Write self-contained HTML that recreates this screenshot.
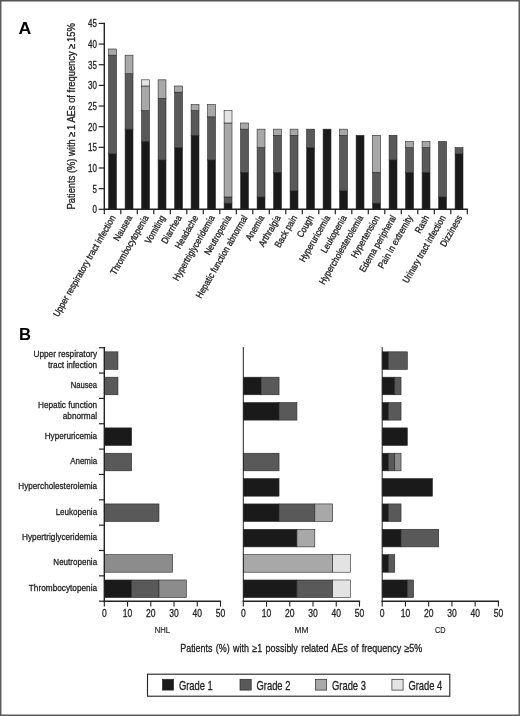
<!DOCTYPE html>
<html lang="en">
<head>
<meta charset="utf-8">
<title>Figure: adverse events by grade</title>
<style>
html,body{margin:0;padding:0;background:#fff;}
body{width:520px;height:716px;overflow:hidden;}
svg{display:block;font-family:"Liberation Sans", sans-serif;}
</style>
</head>
<body>
<svg width="520" height="716" viewBox="0 0 520 716">
<rect x="0" y="0" width="520" height="716" fill="#fff"/>
<g id="panelA">
<rect x="108.60" y="153.81" width="7.9" height="55.49" fill="#1a1a1a" stroke="#2a2a2a" stroke-width="0.6"/>
<rect x="108.60" y="55.16" width="7.9" height="98.65" fill="#595959" stroke="#2a2a2a" stroke-width="0.6"/>
<rect x="108.60" y="48.99" width="7.9" height="6.17" fill="#a8a8a8" stroke="#2a2a2a" stroke-width="0.6"/>
<text transform="translate(115.95,217.60) rotate(-60) scale(0.872,1)" font-size="9.5" text-anchor="end" fill="#222" stroke="#222" stroke-width="0.3">Upper respiratory tract infection</text>
<rect x="125.10" y="129.15" width="7.9" height="80.15" fill="#1a1a1a" stroke="#2a2a2a" stroke-width="0.6"/>
<rect x="125.10" y="73.66" width="7.9" height="55.49" fill="#595959" stroke="#2a2a2a" stroke-width="0.6"/>
<rect x="125.10" y="55.16" width="7.9" height="18.50" fill="#a8a8a8" stroke="#2a2a2a" stroke-width="0.6"/>
<text transform="translate(132.45,217.60) rotate(-60) scale(0.852,1)" font-size="9.5" text-anchor="end" fill="#222" stroke="#222" stroke-width="0.3">Nausea</text>
<rect x="141.60" y="141.48" width="7.9" height="67.82" fill="#1a1a1a" stroke="#2a2a2a" stroke-width="0.6"/>
<rect x="141.60" y="110.65" width="7.9" height="30.83" fill="#595959" stroke="#2a2a2a" stroke-width="0.6"/>
<rect x="141.60" y="85.99" width="7.9" height="24.66" fill="#a8a8a8" stroke="#2a2a2a" stroke-width="0.6"/>
<rect x="141.60" y="79.82" width="7.9" height="6.17" fill="#e3e3e3" stroke="#2a2a2a" stroke-width="0.6"/>
<text transform="translate(148.95,217.60) rotate(-60) scale(0.852,1)" font-size="9.5" text-anchor="end" fill="#222" stroke="#222" stroke-width="0.3">Thrombocytopenia</text>
<rect x="158.10" y="159.97" width="7.9" height="49.33" fill="#1a1a1a" stroke="#2a2a2a" stroke-width="0.6"/>
<rect x="158.10" y="98.32" width="7.9" height="61.66" fill="#595959" stroke="#2a2a2a" stroke-width="0.6"/>
<rect x="158.10" y="79.82" width="7.9" height="18.50" fill="#a8a8a8" stroke="#2a2a2a" stroke-width="0.6"/>
<text transform="translate(165.45,217.60) rotate(-60) scale(0.852,1)" font-size="9.5" text-anchor="end" fill="#222" stroke="#222" stroke-width="0.3">Vomiting</text>
<rect x="174.60" y="147.64" width="7.9" height="61.66" fill="#1a1a1a" stroke="#2a2a2a" stroke-width="0.6"/>
<rect x="174.60" y="92.15" width="7.9" height="55.49" fill="#595959" stroke="#2a2a2a" stroke-width="0.6"/>
<rect x="174.60" y="85.99" width="7.9" height="6.17" fill="#a8a8a8" stroke="#2a2a2a" stroke-width="0.6"/>
<text transform="translate(181.95,217.60) rotate(-60) scale(0.852,1)" font-size="9.5" text-anchor="end" fill="#222" stroke="#222" stroke-width="0.3">Diarrhea</text>
<rect x="191.10" y="135.31" width="7.9" height="73.99" fill="#1a1a1a" stroke="#2a2a2a" stroke-width="0.6"/>
<rect x="191.10" y="110.65" width="7.9" height="24.66" fill="#595959" stroke="#2a2a2a" stroke-width="0.6"/>
<rect x="191.10" y="104.48" width="7.9" height="6.17" fill="#a8a8a8" stroke="#2a2a2a" stroke-width="0.6"/>
<text transform="translate(198.45,217.60) rotate(-60) scale(0.852,1)" font-size="9.5" text-anchor="end" fill="#222" stroke="#222" stroke-width="0.3">Headache</text>
<rect x="207.60" y="159.97" width="7.9" height="49.33" fill="#1a1a1a" stroke="#2a2a2a" stroke-width="0.6"/>
<rect x="207.60" y="116.81" width="7.9" height="43.16" fill="#595959" stroke="#2a2a2a" stroke-width="0.6"/>
<rect x="207.60" y="104.48" width="7.9" height="12.33" fill="#a8a8a8" stroke="#2a2a2a" stroke-width="0.6"/>
<text transform="translate(214.95,217.60) rotate(-60) scale(0.852,1)" font-size="9.5" text-anchor="end" fill="#222" stroke="#222" stroke-width="0.3">Hypertriglyceridemia</text>
<rect x="224.10" y="203.13" width="7.9" height="6.17" fill="#1a1a1a" stroke="#2a2a2a" stroke-width="0.6"/>
<rect x="224.10" y="196.97" width="7.9" height="6.17" fill="#595959" stroke="#2a2a2a" stroke-width="0.6"/>
<rect x="224.10" y="122.98" width="7.9" height="73.99" fill="#a8a8a8" stroke="#2a2a2a" stroke-width="0.6"/>
<rect x="224.10" y="110.65" width="7.9" height="12.33" fill="#e3e3e3" stroke="#2a2a2a" stroke-width="0.6"/>
<text transform="translate(231.45,217.60) rotate(-60) scale(0.852,1)" font-size="9.5" text-anchor="end" fill="#222" stroke="#222" stroke-width="0.3">Neutropenia</text>
<rect x="240.60" y="172.31" width="7.9" height="36.99" fill="#1a1a1a" stroke="#2a2a2a" stroke-width="0.6"/>
<rect x="240.60" y="129.15" width="7.9" height="43.16" fill="#595959" stroke="#2a2a2a" stroke-width="0.6"/>
<rect x="240.60" y="122.98" width="7.9" height="6.17" fill="#a8a8a8" stroke="#2a2a2a" stroke-width="0.6"/>
<text transform="translate(247.95,217.60) rotate(-60) scale(0.852,1)" font-size="9.5" text-anchor="end" fill="#222" stroke="#222" stroke-width="0.3">Hepatic function abnormal</text>
<rect x="257.10" y="196.97" width="7.9" height="12.33" fill="#1a1a1a" stroke="#2a2a2a" stroke-width="0.6"/>
<rect x="257.10" y="147.64" width="7.9" height="49.33" fill="#595959" stroke="#2a2a2a" stroke-width="0.6"/>
<rect x="257.10" y="129.15" width="7.9" height="18.50" fill="#a8a8a8" stroke="#2a2a2a" stroke-width="0.6"/>
<text transform="translate(264.45,217.60) rotate(-60) scale(0.852,1)" font-size="9.5" text-anchor="end" fill="#222" stroke="#222" stroke-width="0.3">Anemia</text>
<rect x="273.60" y="172.31" width="7.9" height="36.99" fill="#1a1a1a" stroke="#2a2a2a" stroke-width="0.6"/>
<rect x="273.60" y="135.31" width="7.9" height="36.99" fill="#595959" stroke="#2a2a2a" stroke-width="0.6"/>
<rect x="273.60" y="129.15" width="7.9" height="6.17" fill="#a8a8a8" stroke="#2a2a2a" stroke-width="0.6"/>
<text transform="translate(280.95,217.60) rotate(-60) scale(0.852,1)" font-size="9.5" text-anchor="end" fill="#222" stroke="#222" stroke-width="0.3">Arthralgia</text>
<rect x="290.10" y="190.80" width="7.9" height="18.50" fill="#1a1a1a" stroke="#2a2a2a" stroke-width="0.6"/>
<rect x="290.10" y="135.31" width="7.9" height="55.49" fill="#595959" stroke="#2a2a2a" stroke-width="0.6"/>
<rect x="290.10" y="129.15" width="7.9" height="6.17" fill="#a8a8a8" stroke="#2a2a2a" stroke-width="0.6"/>
<text transform="translate(297.45,217.60) rotate(-60) scale(0.852,1)" font-size="9.5" text-anchor="end" fill="#222" stroke="#222" stroke-width="0.3">Back pain</text>
<rect x="306.60" y="147.64" width="7.9" height="61.66" fill="#1a1a1a" stroke="#2a2a2a" stroke-width="0.6"/>
<rect x="306.60" y="129.15" width="7.9" height="18.50" fill="#595959" stroke="#2a2a2a" stroke-width="0.6"/>
<text transform="translate(313.95,217.60) rotate(-60) scale(0.852,1)" font-size="9.5" text-anchor="end" fill="#222" stroke="#222" stroke-width="0.3">Cough</text>
<rect x="323.10" y="129.15" width="7.9" height="80.15" fill="#1a1a1a" stroke="#2a2a2a" stroke-width="0.6"/>
<text transform="translate(330.45,217.60) rotate(-60) scale(0.852,1)" font-size="9.5" text-anchor="end" fill="#222" stroke="#222" stroke-width="0.3">Hyperuricemia</text>
<rect x="339.60" y="190.80" width="7.9" height="18.50" fill="#1a1a1a" stroke="#2a2a2a" stroke-width="0.6"/>
<rect x="339.60" y="135.31" width="7.9" height="55.49" fill="#595959" stroke="#2a2a2a" stroke-width="0.6"/>
<rect x="339.60" y="129.15" width="7.9" height="6.17" fill="#a8a8a8" stroke="#2a2a2a" stroke-width="0.6"/>
<text transform="translate(346.95,217.60) rotate(-60) scale(0.852,1)" font-size="9.5" text-anchor="end" fill="#222" stroke="#222" stroke-width="0.3">Leukopenia</text>
<rect x="356.10" y="135.31" width="7.9" height="73.99" fill="#1a1a1a" stroke="#2a2a2a" stroke-width="0.6"/>
<text transform="translate(363.45,217.60) rotate(-60) scale(0.852,1)" font-size="9.5" text-anchor="end" fill="#222" stroke="#222" stroke-width="0.3">Hypercholesterolemia</text>
<rect x="372.60" y="203.13" width="7.9" height="6.17" fill="#1a1a1a" stroke="#2a2a2a" stroke-width="0.6"/>
<rect x="372.60" y="172.31" width="7.9" height="30.83" fill="#595959" stroke="#2a2a2a" stroke-width="0.6"/>
<rect x="372.60" y="135.31" width="7.9" height="36.99" fill="#a8a8a8" stroke="#2a2a2a" stroke-width="0.6"/>
<text transform="translate(379.95,217.60) rotate(-60) scale(0.852,1)" font-size="9.5" text-anchor="end" fill="#222" stroke="#222" stroke-width="0.3">Hypertension</text>
<rect x="389.10" y="159.97" width="7.9" height="49.33" fill="#1a1a1a" stroke="#2a2a2a" stroke-width="0.6"/>
<rect x="389.10" y="135.31" width="7.9" height="24.66" fill="#595959" stroke="#2a2a2a" stroke-width="0.6"/>
<text transform="translate(396.45,217.60) rotate(-60) scale(0.852,1)" font-size="9.5" text-anchor="end" fill="#222" stroke="#222" stroke-width="0.3">Edema peripheral</text>
<rect x="405.60" y="172.31" width="7.9" height="36.99" fill="#1a1a1a" stroke="#2a2a2a" stroke-width="0.6"/>
<rect x="405.60" y="147.64" width="7.9" height="24.66" fill="#595959" stroke="#2a2a2a" stroke-width="0.6"/>
<rect x="405.60" y="141.48" width="7.9" height="6.17" fill="#a8a8a8" stroke="#2a2a2a" stroke-width="0.6"/>
<text transform="translate(412.95,217.60) rotate(-60) scale(0.852,1)" font-size="9.5" text-anchor="end" fill="#222" stroke="#222" stroke-width="0.3">Pain in extremity</text>
<rect x="422.10" y="172.31" width="7.9" height="36.99" fill="#1a1a1a" stroke="#2a2a2a" stroke-width="0.6"/>
<rect x="422.10" y="147.64" width="7.9" height="24.66" fill="#595959" stroke="#2a2a2a" stroke-width="0.6"/>
<rect x="422.10" y="141.48" width="7.9" height="6.17" fill="#a8a8a8" stroke="#2a2a2a" stroke-width="0.6"/>
<text transform="translate(429.45,217.60) rotate(-60) scale(0.852,1)" font-size="9.5" text-anchor="end" fill="#222" stroke="#222" stroke-width="0.3">Rash</text>
<rect x="438.60" y="196.97" width="7.9" height="12.33" fill="#1a1a1a" stroke="#2a2a2a" stroke-width="0.6"/>
<rect x="438.60" y="141.48" width="7.9" height="55.49" fill="#595959" stroke="#2a2a2a" stroke-width="0.6"/>
<text transform="translate(445.95,217.60) rotate(-60) scale(0.852,1)" font-size="9.5" text-anchor="end" fill="#222" stroke="#222" stroke-width="0.3">Urinary tract infection</text>
<rect x="455.10" y="153.81" width="7.9" height="55.49" fill="#1a1a1a" stroke="#2a2a2a" stroke-width="0.6"/>
<rect x="455.10" y="147.64" width="7.9" height="6.17" fill="#595959" stroke="#2a2a2a" stroke-width="0.6"/>
<text transform="translate(462.45,217.60) rotate(-60) scale(0.852,1)" font-size="9.5" text-anchor="end" fill="#222" stroke="#222" stroke-width="0.3">Dizziness</text>
<path d="M104.3,22.80 V209.3 H467.90" fill="none" stroke="#222" stroke-width="1.4"/>
<path d="M98.7,209.30 H104.3" stroke="#222" stroke-width="1.2"/>
<text transform="translate(97.00,213.30) scale(0.74,1)" font-size="10.8" text-anchor="end" fill="#222" stroke="#222" stroke-width="0.3">0</text>
<path d="M98.7,188.65 H104.3" stroke="#222" stroke-width="1.2"/>
<text transform="translate(97.00,192.65) scale(0.74,1)" font-size="10.8" text-anchor="end" fill="#222" stroke="#222" stroke-width="0.3">5</text>
<path d="M98.7,167.99 H104.3" stroke="#222" stroke-width="1.2"/>
<text transform="translate(97.00,171.99) scale(0.74,1)" font-size="10.8" text-anchor="end" fill="#222" stroke="#222" stroke-width="0.3">10</text>
<path d="M98.7,147.34 H104.3" stroke="#222" stroke-width="1.2"/>
<text transform="translate(97.00,151.34) scale(0.74,1)" font-size="10.8" text-anchor="end" fill="#222" stroke="#222" stroke-width="0.3">15</text>
<path d="M98.7,126.68 H104.3" stroke="#222" stroke-width="1.2"/>
<text transform="translate(97.00,130.68) scale(0.74,1)" font-size="10.8" text-anchor="end" fill="#222" stroke="#222" stroke-width="0.3">20</text>
<path d="M98.7,106.03 H104.3" stroke="#222" stroke-width="1.2"/>
<text transform="translate(97.00,110.03) scale(0.74,1)" font-size="10.8" text-anchor="end" fill="#222" stroke="#222" stroke-width="0.3">25</text>
<path d="M98.7,85.37 H104.3" stroke="#222" stroke-width="1.2"/>
<text transform="translate(97.00,89.37) scale(0.74,1)" font-size="10.8" text-anchor="end" fill="#222" stroke="#222" stroke-width="0.3">30</text>
<path d="M98.7,64.72 H104.3" stroke="#222" stroke-width="1.2"/>
<text transform="translate(97.00,68.72) scale(0.74,1)" font-size="10.8" text-anchor="end" fill="#222" stroke="#222" stroke-width="0.3">35</text>
<path d="M98.7,44.06 H104.3" stroke="#222" stroke-width="1.2"/>
<text transform="translate(97.00,48.06) scale(0.74,1)" font-size="10.8" text-anchor="end" fill="#222" stroke="#222" stroke-width="0.3">40</text>
<path d="M98.7,23.41 H104.3" stroke="#222" stroke-width="1.2"/>
<text transform="translate(97.00,27.41) scale(0.74,1)" font-size="10.8" text-anchor="end" fill="#222" stroke="#222" stroke-width="0.3">45</text>
<path d="M104.30,209.3 V214.3" stroke="#222" stroke-width="1.2"/>
<path d="M120.80,209.3 V214.3" stroke="#222" stroke-width="1.2"/>
<path d="M137.30,209.3 V214.3" stroke="#222" stroke-width="1.2"/>
<path d="M153.80,209.3 V214.3" stroke="#222" stroke-width="1.2"/>
<path d="M170.30,209.3 V214.3" stroke="#222" stroke-width="1.2"/>
<path d="M186.80,209.3 V214.3" stroke="#222" stroke-width="1.2"/>
<path d="M203.30,209.3 V214.3" stroke="#222" stroke-width="1.2"/>
<path d="M219.80,209.3 V214.3" stroke="#222" stroke-width="1.2"/>
<path d="M236.30,209.3 V214.3" stroke="#222" stroke-width="1.2"/>
<path d="M252.80,209.3 V214.3" stroke="#222" stroke-width="1.2"/>
<path d="M269.30,209.3 V214.3" stroke="#222" stroke-width="1.2"/>
<path d="M285.80,209.3 V214.3" stroke="#222" stroke-width="1.2"/>
<path d="M302.30,209.3 V214.3" stroke="#222" stroke-width="1.2"/>
<path d="M318.80,209.3 V214.3" stroke="#222" stroke-width="1.2"/>
<path d="M335.30,209.3 V214.3" stroke="#222" stroke-width="1.2"/>
<path d="M351.80,209.3 V214.3" stroke="#222" stroke-width="1.2"/>
<path d="M368.30,209.3 V214.3" stroke="#222" stroke-width="1.2"/>
<path d="M384.80,209.3 V214.3" stroke="#222" stroke-width="1.2"/>
<path d="M401.30,209.3 V214.3" stroke="#222" stroke-width="1.2"/>
<path d="M417.80,209.3 V214.3" stroke="#222" stroke-width="1.2"/>
<path d="M434.30,209.3 V214.3" stroke="#222" stroke-width="1.2"/>
<path d="M450.80,209.3 V214.3" stroke="#222" stroke-width="1.2"/>
<path d="M467.30,209.3 V214.3" stroke="#222" stroke-width="1.2"/>
<text transform="translate(74.50,209.50) rotate(-90) scale(0.893,1)" font-size="10.5" text-anchor="start" fill="#222" stroke="#222" stroke-width="0.3">Patients (%) with ≥<tspan dx="1.8">1</tspan> AEs of frequency ≥<tspan dx="1.8">15%</tspan></text>
<text transform="translate(18.50,34.00) scale(1.02,1)" font-size="17.4" text-anchor="start" font-weight="bold" fill="#000" stroke="#000" stroke-width="0">A</text>
</g>
<text transform="translate(19.00,340.20) scale(0.97,1)" font-size="17.2" text-anchor="start" font-weight="bold" fill="#000" stroke="#000" stroke-width="0">B</text>
<g id="panelB">
<rect x="104.30" y="351.82" width="13.67" height="17.6" fill="#595959" stroke="#2a2a2a" stroke-width="0.6"/>
<rect x="104.30" y="377.18" width="13.67" height="17.6" fill="#595959" stroke="#2a2a2a" stroke-width="0.6"/>
<rect x="104.30" y="427.88" width="27.34" height="17.6" fill="#1a1a1a" stroke="#2a2a2a" stroke-width="0.6"/>
<rect x="104.30" y="453.22" width="27.34" height="17.6" fill="#595959" stroke="#2a2a2a" stroke-width="0.6"/>
<rect x="104.30" y="503.93" width="54.68" height="17.6" fill="#595959" stroke="#2a2a2a" stroke-width="0.6"/>
<rect x="104.30" y="554.62" width="68.35" height="17.6" fill="#8c8c8c" stroke="#2a2a2a" stroke-width="0.6"/>
<rect x="104.30" y="579.98" width="27.34" height="17.6" fill="#1a1a1a" stroke="#2a2a2a" stroke-width="0.6"/>
<rect x="131.64" y="579.98" width="27.34" height="17.6" fill="#595959" stroke="#2a2a2a" stroke-width="0.6"/>
<rect x="158.98" y="579.98" width="27.34" height="17.6" fill="#8c8c8c" stroke="#2a2a2a" stroke-width="0.6"/>
<path d="M104.3,347.10 V602.00" fill="none" stroke="#222" stroke-width="1.4"/>
<path d="M103.7,601.20 H221.10" fill="none" stroke="#222" stroke-width="1.6"/>
<path d="M104.30,601.20 V606.60" stroke="#222" stroke-width="1.1"/>
<text transform="translate(104.30,617.00) scale(0.75,1)" font-size="11.4" text-anchor="middle" fill="#222" stroke="#222" stroke-width="0.3">0</text>
<path d="M127.54,601.20 V606.60" stroke="#222" stroke-width="1.1"/>
<text transform="translate(127.54,617.00) scale(0.75,1)" font-size="11.4" text-anchor="middle" fill="#222" stroke="#222" stroke-width="0.3">10</text>
<path d="M150.78,601.20 V606.60" stroke="#222" stroke-width="1.1"/>
<text transform="translate(150.78,617.00) scale(0.75,1)" font-size="11.4" text-anchor="middle" fill="#222" stroke="#222" stroke-width="0.3">20</text>
<path d="M174.02,601.20 V606.60" stroke="#222" stroke-width="1.1"/>
<text transform="translate(174.02,617.00) scale(0.75,1)" font-size="11.4" text-anchor="middle" fill="#222" stroke="#222" stroke-width="0.3">30</text>
<path d="M197.26,601.20 V606.60" stroke="#222" stroke-width="1.1"/>
<text transform="translate(197.26,617.00) scale(0.75,1)" font-size="11.4" text-anchor="middle" fill="#222" stroke="#222" stroke-width="0.3">40</text>
<path d="M220.50,601.20 V606.60" stroke="#222" stroke-width="1.1"/>
<text transform="translate(220.50,617.00) scale(0.75,1)" font-size="11.4" text-anchor="middle" fill="#222" stroke="#222" stroke-width="0.3">50</text>
<text transform="translate(162.40,632.90) scale(0.82,1)" font-size="9.4" text-anchor="middle" fill="#222" stroke="#222" stroke-width="0.15">NHL</text>
<rect x="243.30" y="377.18" width="17.88" height="17.6" fill="#1a1a1a" stroke="#2a2a2a" stroke-width="0.6"/>
<rect x="261.18" y="377.18" width="17.88" height="17.6" fill="#595959" stroke="#2a2a2a" stroke-width="0.6"/>
<rect x="243.30" y="402.52" width="35.75" height="17.6" fill="#1a1a1a" stroke="#2a2a2a" stroke-width="0.6"/>
<rect x="279.05" y="402.52" width="17.88" height="17.6" fill="#595959" stroke="#2a2a2a" stroke-width="0.6"/>
<rect x="243.30" y="453.22" width="35.75" height="17.6" fill="#595959" stroke="#2a2a2a" stroke-width="0.6"/>
<rect x="243.30" y="478.57" width="35.75" height="17.6" fill="#1a1a1a" stroke="#2a2a2a" stroke-width="0.6"/>
<rect x="243.30" y="503.93" width="35.75" height="17.6" fill="#1a1a1a" stroke="#2a2a2a" stroke-width="0.6"/>
<rect x="279.05" y="503.93" width="35.75" height="17.6" fill="#595959" stroke="#2a2a2a" stroke-width="0.6"/>
<rect x="314.81" y="503.93" width="17.88" height="17.6" fill="#a8a8a8" stroke="#2a2a2a" stroke-width="0.6"/>
<rect x="243.30" y="529.28" width="53.63" height="17.6" fill="#1a1a1a" stroke="#2a2a2a" stroke-width="0.6"/>
<rect x="296.93" y="529.28" width="17.88" height="17.6" fill="#a8a8a8" stroke="#2a2a2a" stroke-width="0.6"/>
<rect x="243.30" y="554.62" width="89.38" height="17.6" fill="#a8a8a8" stroke="#2a2a2a" stroke-width="0.6"/>
<rect x="332.68" y="554.62" width="17.88" height="17.6" fill="#e3e3e3" stroke="#2a2a2a" stroke-width="0.6"/>
<rect x="243.30" y="579.98" width="53.63" height="17.6" fill="#1a1a1a" stroke="#2a2a2a" stroke-width="0.6"/>
<rect x="296.93" y="579.98" width="35.75" height="17.6" fill="#595959" stroke="#2a2a2a" stroke-width="0.6"/>
<rect x="332.68" y="579.98" width="17.88" height="17.6" fill="#e3e3e3" stroke="#2a2a2a" stroke-width="0.6"/>
<path d="M243.3,347.10 V602.00" fill="none" stroke="#222" stroke-width="1.0"/>
<path d="M242.70000000000002,601.20 H360.10" fill="none" stroke="#222" stroke-width="1.6"/>
<path d="M243.30,601.20 V606.60" stroke="#222" stroke-width="1.1"/>
<text transform="translate(243.30,617.00) scale(0.75,1)" font-size="11.4" text-anchor="middle" fill="#222" stroke="#222" stroke-width="0.3">0</text>
<path d="M266.54,601.20 V606.60" stroke="#222" stroke-width="1.1"/>
<text transform="translate(266.54,617.00) scale(0.75,1)" font-size="11.4" text-anchor="middle" fill="#222" stroke="#222" stroke-width="0.3">10</text>
<path d="M289.78,601.20 V606.60" stroke="#222" stroke-width="1.1"/>
<text transform="translate(289.78,617.00) scale(0.75,1)" font-size="11.4" text-anchor="middle" fill="#222" stroke="#222" stroke-width="0.3">20</text>
<path d="M313.02,601.20 V606.60" stroke="#222" stroke-width="1.1"/>
<text transform="translate(313.02,617.00) scale(0.75,1)" font-size="11.4" text-anchor="middle" fill="#222" stroke="#222" stroke-width="0.3">30</text>
<path d="M336.26,601.20 V606.60" stroke="#222" stroke-width="1.1"/>
<text transform="translate(336.26,617.00) scale(0.75,1)" font-size="11.4" text-anchor="middle" fill="#222" stroke="#222" stroke-width="0.3">40</text>
<path d="M359.50,601.20 V606.60" stroke="#222" stroke-width="1.1"/>
<text transform="translate(359.50,617.00) scale(0.75,1)" font-size="11.4" text-anchor="middle" fill="#222" stroke="#222" stroke-width="0.3">50</text>
<text transform="translate(301.40,632.90) scale(0.89,1)" font-size="9.4" text-anchor="middle" fill="#222" stroke="#222" stroke-width="0.15">MM</text>
<rect x="382.20" y="351.82" width="6.28" height="17.6" fill="#1a1a1a" stroke="#2a2a2a" stroke-width="0.6"/>
<rect x="388.48" y="351.82" width="18.84" height="17.6" fill="#595959" stroke="#2a2a2a" stroke-width="0.6"/>
<rect x="382.20" y="377.18" width="12.56" height="17.6" fill="#1a1a1a" stroke="#2a2a2a" stroke-width="0.6"/>
<rect x="394.76" y="377.18" width="6.28" height="17.6" fill="#595959" stroke="#2a2a2a" stroke-width="0.6"/>
<rect x="382.20" y="402.52" width="6.28" height="17.6" fill="#1a1a1a" stroke="#2a2a2a" stroke-width="0.6"/>
<rect x="388.48" y="402.52" width="12.56" height="17.6" fill="#595959" stroke="#2a2a2a" stroke-width="0.6"/>
<rect x="382.20" y="427.88" width="25.12" height="17.6" fill="#1a1a1a" stroke="#2a2a2a" stroke-width="0.6"/>
<rect x="382.20" y="453.22" width="6.28" height="17.6" fill="#1a1a1a" stroke="#2a2a2a" stroke-width="0.6"/>
<rect x="388.48" y="453.22" width="6.28" height="17.6" fill="#595959" stroke="#2a2a2a" stroke-width="0.6"/>
<rect x="394.76" y="453.22" width="6.28" height="17.6" fill="#8c8c8c" stroke="#2a2a2a" stroke-width="0.6"/>
<rect x="382.20" y="478.57" width="50.25" height="17.6" fill="#1a1a1a" stroke="#2a2a2a" stroke-width="0.6"/>
<rect x="382.20" y="503.93" width="6.28" height="17.6" fill="#1a1a1a" stroke="#2a2a2a" stroke-width="0.6"/>
<rect x="388.48" y="503.93" width="12.56" height="17.6" fill="#595959" stroke="#2a2a2a" stroke-width="0.6"/>
<rect x="382.20" y="529.28" width="18.84" height="17.6" fill="#1a1a1a" stroke="#2a2a2a" stroke-width="0.6"/>
<rect x="401.04" y="529.28" width="37.69" height="17.6" fill="#595959" stroke="#2a2a2a" stroke-width="0.6"/>
<rect x="382.20" y="554.62" width="6.28" height="17.6" fill="#1a1a1a" stroke="#2a2a2a" stroke-width="0.6"/>
<rect x="388.48" y="554.62" width="6.28" height="17.6" fill="#595959" stroke="#2a2a2a" stroke-width="0.6"/>
<rect x="382.20" y="579.98" width="25.12" height="17.6" fill="#1a1a1a" stroke="#2a2a2a" stroke-width="0.6"/>
<rect x="407.32" y="579.98" width="6.28" height="17.6" fill="#595959" stroke="#2a2a2a" stroke-width="0.6"/>
<path d="M382.2,347.10 V602.00" fill="none" stroke="#222" stroke-width="1.0"/>
<path d="M381.59999999999997,601.20 H499.00" fill="none" stroke="#222" stroke-width="1.6"/>
<path d="M382.20,601.20 V606.60" stroke="#222" stroke-width="1.1"/>
<text transform="translate(382.20,617.00) scale(0.75,1)" font-size="11.4" text-anchor="middle" fill="#222" stroke="#222" stroke-width="0.3">0</text>
<path d="M405.44,601.20 V606.60" stroke="#222" stroke-width="1.1"/>
<text transform="translate(405.44,617.00) scale(0.75,1)" font-size="11.4" text-anchor="middle" fill="#222" stroke="#222" stroke-width="0.3">10</text>
<path d="M428.68,601.20 V606.60" stroke="#222" stroke-width="1.1"/>
<text transform="translate(428.68,617.00) scale(0.75,1)" font-size="11.4" text-anchor="middle" fill="#222" stroke="#222" stroke-width="0.3">20</text>
<path d="M451.92,601.20 V606.60" stroke="#222" stroke-width="1.1"/>
<text transform="translate(451.92,617.00) scale(0.75,1)" font-size="11.4" text-anchor="middle" fill="#222" stroke="#222" stroke-width="0.3">30</text>
<path d="M475.16,601.20 V606.60" stroke="#222" stroke-width="1.1"/>
<text transform="translate(475.16,617.00) scale(0.75,1)" font-size="11.4" text-anchor="middle" fill="#222" stroke="#222" stroke-width="0.3">40</text>
<path d="M498.40,601.20 V606.60" stroke="#222" stroke-width="1.1"/>
<text transform="translate(498.40,617.00) scale(0.75,1)" font-size="11.4" text-anchor="middle" fill="#222" stroke="#222" stroke-width="0.3">50</text>
<text transform="translate(440.30,632.90) scale(0.78,1)" font-size="9.4" text-anchor="middle" fill="#222" stroke="#222" stroke-width="0.15">CD</text>
<path d="M99,347.70 H104.3" stroke="#222" stroke-width="1.2"/>
<path d="M99,373.05 H104.3" stroke="#222" stroke-width="1.2"/>
<path d="M99,398.40 H104.3" stroke="#222" stroke-width="1.2"/>
<path d="M99,423.75 H104.3" stroke="#222" stroke-width="1.2"/>
<path d="M99,449.10 H104.3" stroke="#222" stroke-width="1.2"/>
<path d="M99,474.45 H104.3" stroke="#222" stroke-width="1.2"/>
<path d="M99,499.80 H104.3" stroke="#222" stroke-width="1.2"/>
<path d="M99,525.15 H104.3" stroke="#222" stroke-width="1.2"/>
<path d="M99,550.50 H104.3" stroke="#222" stroke-width="1.2"/>
<path d="M99,575.85 H104.3" stroke="#222" stroke-width="1.2"/>
<path d="M99,601.20 H104.3" stroke="#222" stroke-width="1.2"/>
<text transform="translate(97.10,357.48) scale(0.842,1)" font-size="9.8" text-anchor="end" fill="#222" stroke="#222" stroke-width="0.3">Upper respiratory</text>
<text transform="translate(97.10,368.38) scale(0.842,1)" font-size="9.8" text-anchor="end" fill="#222" stroke="#222" stroke-width="0.3">tract infection</text>
<text transform="translate(97.10,387.83) scale(0.7831,1)" font-size="9.8" text-anchor="end" fill="#222" stroke="#222" stroke-width="0.3">Nausea</text>
<text transform="translate(97.10,408.18) scale(0.842,1)" font-size="9.8" text-anchor="end" fill="#222" stroke="#222" stroke-width="0.3">Hepatic function</text>
<text transform="translate(97.10,419.07) scale(0.842,1)" font-size="9.8" text-anchor="end" fill="#222" stroke="#222" stroke-width="0.3">abnormal</text>
<text transform="translate(97.10,438.53) scale(0.8294,1)" font-size="9.8" text-anchor="end" fill="#222" stroke="#222" stroke-width="0.3">Hyperuricemia</text>
<text transform="translate(97.10,463.88) scale(0.8125,1)" font-size="9.8" text-anchor="end" fill="#222" stroke="#222" stroke-width="0.3">Anemia</text>
<text transform="translate(97.10,489.23) scale(0.8319,1)" font-size="9.8" text-anchor="end" fill="#222" stroke="#222" stroke-width="0.3">Hypercholesterolemia</text>
<text transform="translate(97.10,514.58) scale(0.8193,1)" font-size="9.8" text-anchor="end" fill="#222" stroke="#222" stroke-width="0.3">Leukopenia</text>
<text transform="translate(97.10,539.93) scale(0.842,1)" font-size="9.8" text-anchor="end" fill="#222" stroke="#222" stroke-width="0.3">Hypertriglyceridemia</text>
<text transform="translate(97.10,565.27) scale(0.8209,1)" font-size="9.8" text-anchor="end" fill="#222" stroke="#222" stroke-width="0.3">Neutropenia</text>
<text transform="translate(97.10,590.62) scale(0.842,1)" font-size="9.8" text-anchor="end" fill="#222" stroke="#222" stroke-width="0.3">Thrombocytopenia</text>
<text transform="translate(180.20,652.20) scale(0.845,1)" font-size="10.6" text-anchor="start" fill="#222" stroke="#222" stroke-width="0.3" style="word-spacing:1.0px">Patients (%) with ≥1 possibly related AEs of frequency ≥5%</text>
</g>
<g id="legend">
<rect x="147.5" y="674.2" width="302.3" height="22" fill="#fff" stroke="#222" stroke-width="1.1"/>
<rect x="162.4" y="679.3" width="11.2" height="10.8" fill="#1a1a1a" stroke="#2a2a2a" stroke-width="0.7"/>
<text transform="translate(178.90,689.60) scale(0.757,1)" font-size="12.4" text-anchor="start" fill="#222" stroke="#222" stroke-width="0.3">Grade 1</text>
<rect x="240.0" y="679.3" width="11.2" height="10.8" fill="#595959" stroke="#2a2a2a" stroke-width="0.7"/>
<text transform="translate(256.50,689.60) scale(0.757,1)" font-size="12.4" text-anchor="start" fill="#222" stroke="#222" stroke-width="0.3">Grade 2</text>
<rect x="315.5" y="679.3" width="11.2" height="10.8" fill="#a8a8a8" stroke="#2a2a2a" stroke-width="0.7"/>
<text transform="translate(332.00,689.60) scale(0.757,1)" font-size="12.4" text-anchor="start" fill="#222" stroke="#222" stroke-width="0.3">Grade 3</text>
<rect x="391.9" y="679.3" width="11.2" height="10.8" fill="#e3e3e3" stroke="#2a2a2a" stroke-width="0.7"/>
<text transform="translate(408.40,689.60) scale(0.757,1)" font-size="12.4" text-anchor="start" fill="#222" stroke="#222" stroke-width="0.3">Grade 4</text>
</g>
<path d="M0.7,0 V716" stroke="#5a5a5a" stroke-width="1.5"/>
<path d="M0,0.75 H520" stroke="#555" stroke-width="1.5"/>
<path d="M519.25,0 V716" stroke="#5c5c5c" stroke-width="1.5"/>
<path d="M0,715.2 H520" stroke="#5c5c5c" stroke-width="1.6"/>
</svg>
</body>
</html>
